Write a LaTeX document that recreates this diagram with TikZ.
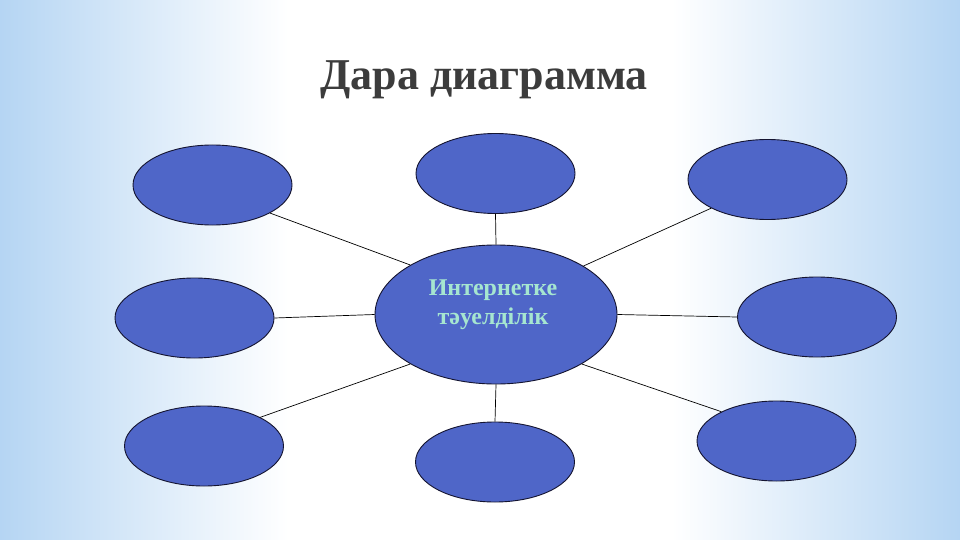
\documentclass[tikz,border=0pt]{standalone}
\usepackage{fontspec}
\setmainfont{Liberation Serif}
\usetikzlibrary{shapes.geometric}
\definecolor{bgblue}{HTML}{B5D5F3}
\definecolor{ellblue}{HTML}{4F66C8}
\definecolor{ellline}{HTML}{141430}
\definecolor{txtteal}{HTML}{A6E6D0}
\definecolor{titlegray}{HTML}{3C3C3C}
\pgfdeclarehorizontalshading{bgshade}{100bp}{color(0bp)=(bgblue); color(25bp)=(bgblue); color(40bp)=(white); color(60bp)=(white); color(75bp)=(bgblue); color(100bp)=(bgblue)}
\tikzset{
  leaf/.style={ellipse, draw=ellline, line width=0.9pt, fill=ellblue, minimum width=159pt, minimum height=80pt, inner sep=0pt},
  hub/.style={ellipse, draw=ellline, line width=0.9pt, fill=ellblue, minimum width=242pt, minimum height=139pt, inner sep=0pt},
  hubtext/.style={font=\fontsize{24}{29}\selectfont\bfseries, text=txtteal, align=center, inner sep=0pt},
  titletext/.style={font=\fontsize{44}{50}\selectfont\bfseries, text=titlegray, inner sep=0pt, anchor=base},
  link/.style={draw=black, line width=0.7pt}
}
\begin{document}
\begin{tikzpicture}[x=1pt,y=-1pt]
\shade[shading=bgshade] (0,0) rectangle (960,540);
\useasboundingbox (0,0) rectangle (960,540);
\node[titletext] (title) at (484,90) {Дара диаграмма};
\node[hub] (c) at (496,314.5) {};
\node[hubtext] (ct) at (493,305) {Интернетке\\тәуелділік};
\node[leaf] (tl) at (212.5,185) {};
\node[leaf] (tc) at (495.5,173.5) {};
\node[leaf] (tr) at (767.5,179.5) {};
\node[leaf] (ml) at (194.5,318) {};
\node[leaf] (mr) at (817,317) {};
\node[leaf] (bl) at (204,446) {};
\node[leaf] (bc) at (495,462) {};
\node[leaf] (br) at (776.5,441) {};
\draw[link] (c.150.6) -- (tl.-26.8);
\draw[link] (c.north) -- (tc.south);
\draw[link] (c.29.4) -- (tr.207.2);
\draw[link] (c.west) -- (ml.east);
\draw[link] (c.east) -- (mr.west);
\draw[link] (c.210) -- (bl.27.3);
\draw[link] (c.south) -- (bc.north);
\draw[link] (c.-30.4) -- (br.152.6);
\end{tikzpicture}
\end{document}
